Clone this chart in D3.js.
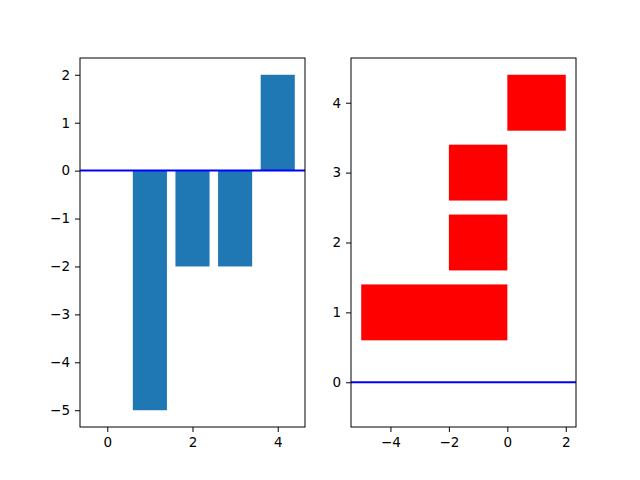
<!DOCTYPE html>
<html>
<head>
<meta charset="utf-8">
<script src="https://cdn.jsdelivr.net/npm/d3@7"></script>
<style>
body { margin: 0; background: #fff; }
text { font-family: "DejaVu Sans", sans-serif; }
</style>
</head>
<body>
<div id="chart"></div>
<script>
// bar positions and values
var positions = [0, 1, 2, 3, 4];
var values = [0, -5, -2, -2, 2];
var leftXTicks = [0, 2, 4];
var leftYTicks = [-5, -4, -3, -2, -1, 0, 1, 2];
var rightXTicks = [-4, -2, 0, 2];
var rightYTicks = [0, 1, 2, 3, 4];
var barSize = 0.8;

var svg = d3.select("#chart").append("svg")
    .attr("width", 640).attr("height", 480);

var plotTop = 58, plotBottom = 427;
var fmt = function(d) { return String(d).replace("-", "\u2212"); };

function styleAxis(g) {
    g.selectAll("text").attr("font-size", 13.5).attr("fill", "#000");
    g.selectAll("line").attr("stroke", "#000").attr("stroke-width", 1);
    g.select(".domain").remove();
}

function frame(g, x0, x1) {
    g.append("rect").attr("x", x0).attr("y", plotTop)
        .attr("width", x1 - x0).attr("height", plotBottom - plotTop)
        .attr("fill", "none").attr("stroke", "#000").attr("stroke-width", 1);
}

// left: vertical bars
var x1 = d3.scaleLinear().domain([-0.64, 4.64]).range([80, 305]);
var y1 = d3.scaleLinear().domain([-5.35, 2.35]).range([plotBottom, plotTop]);
var left = svg.append("g");
left.selectAll("rect.bar").data(positions).enter().append("rect")
    .attr("class", "bar")
    .attr("x", function(d) { return x1(d - barSize / 2); })
    .attr("width", x1(barSize) - x1(0))
    .attr("y", function(d, i) { return y1(Math.max(0, values[i])); })
    .attr("height", function(d, i) { return Math.abs(y1(values[i]) - y1(0)); })
    .attr("fill", "#1f77b4");
left.append("line").attr("x1", 80).attr("x2", 305)
    .attr("y1", y1(0)).attr("y2", y1(0))
    .attr("stroke", "blue").attr("stroke-width", 2);
left.append("g").attr("transform", "translate(0," + plotBottom + ")")
    .call(d3.axisBottom(x1).tickValues(leftXTicks).tickFormat(fmt).tickSize(5).tickPadding(5))
    .call(styleAxis);
left.append("g").attr("transform", "translate(80,0)")
    .call(d3.axisLeft(y1).tickValues(leftYTicks).tickFormat(fmt).tickSize(5).tickPadding(5))
    .call(styleAxis);
frame(left, 80, 305);

// right: horizontal bars
var x2 = d3.scaleLinear().domain([-5.35, 2.35]).range([351, 576]);
var y2 = d3.scaleLinear().domain([-0.64, 4.64]).range([plotBottom, plotTop]);
var right = svg.append("g");
right.selectAll("rect.bar").data(positions).enter().append("rect")
    .attr("class", "bar")
    .attr("y", function(d) { return y2(d + barSize / 2); })
    .attr("height", y2(0) - y2(barSize))
    .attr("x", function(d, i) { return x2(Math.min(0, values[i])); })
    .attr("width", function(d, i) { return Math.abs(x2(values[i]) - x2(0)); })
    .attr("fill", "red");
right.append("line").attr("x1", 351).attr("x2", 576)
    .attr("y1", y2(0)).attr("y2", y2(0))
    .attr("stroke", "blue").attr("stroke-width", 2);
right.append("g").attr("transform", "translate(0," + plotBottom + ")")
    .call(d3.axisBottom(x2).tickValues(rightXTicks).tickFormat(fmt).tickSize(5).tickPadding(5))
    .call(styleAxis);
right.append("g").attr("transform", "translate(351,0)")
    .call(d3.axisLeft(y2).tickValues(rightYTicks).tickFormat(fmt).tickSize(5).tickPadding(5))
    .call(styleAxis);
frame(right, 351, 576);
</script>
</body>
</html>
